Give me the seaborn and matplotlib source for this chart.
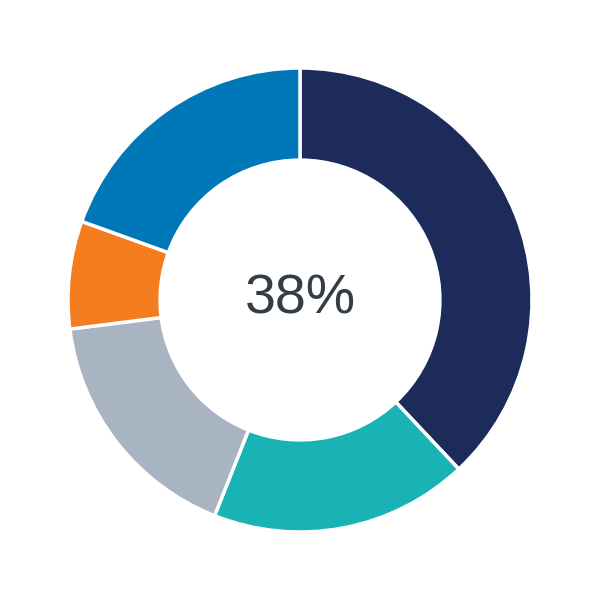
import matplotlib
matplotlib.use("Agg")
import matplotlib.pyplot as plt
import seaborn as sns

# donut segments, clockwise from 12 o'clock
labels = ["Navy", "Teal", "Gray", "Orange", "Blue"]
values = [38, 18, 17, 7.5, 19.5]
colors = ["#1c2b5a", "#1ab3b5", "#a9b4c2", "#f47d20", "#0077b6"]
center_label = "38%"

sns.set_theme(style="white")
plt.rcParams["font.family"] = ["Liberation Sans", "DejaVu Sans"]

fig = plt.figure(figsize=(6, 6), dpi=100)
ax = fig.add_axes([0, 0, 1, 1])
palette = sns.color_palette(colors)

ax.pie(values, colors=palette, startangle=90, counterclock=False,
       radius=1.0,
       wedgeprops=dict(width=0.397, edgecolor="white", linewidth=2.5))
ax.text(0, 0, center_label, ha="center", va="center",
        fontsize=40, color="#333d47")

lim = 300 / 232
ax.set_xlim(-lim, lim)
ax.set_ylim(-lim, lim)
ax.set_aspect("equal")
ax.axis("off")

fig.savefig("out.png", dpi=100, facecolor="white")
